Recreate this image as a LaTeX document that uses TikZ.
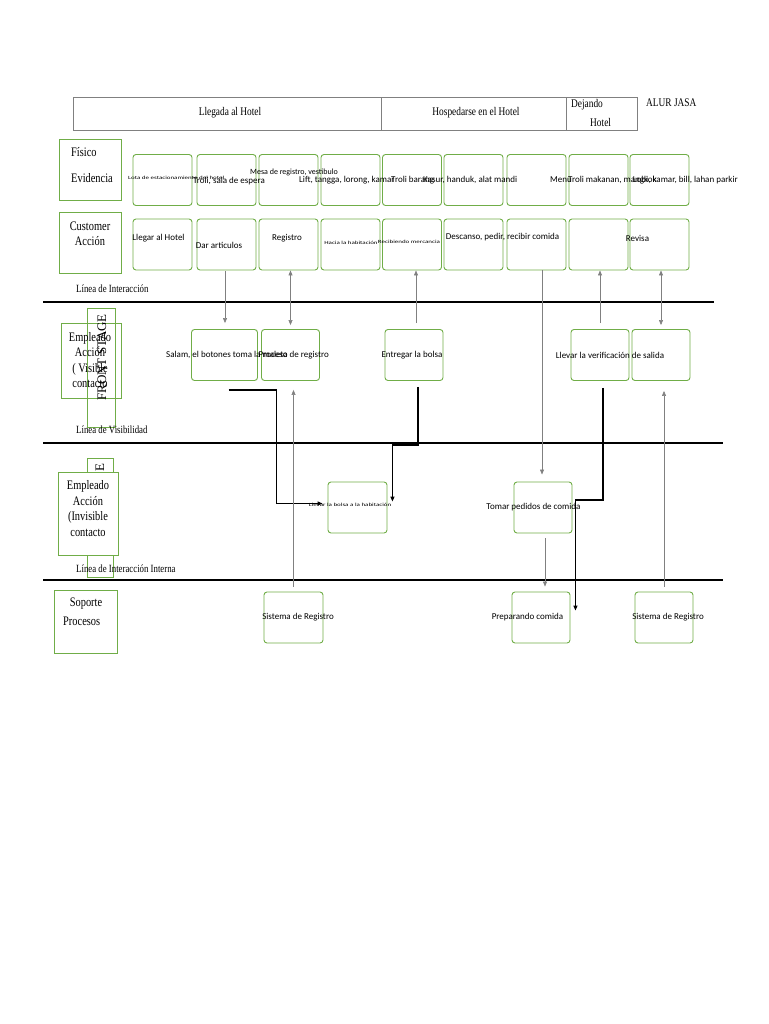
\documentclass[tikz,border=0pt]{standalone}
\usepackage{fontspec}
\setmainfont{Liberation Serif}
\newfontfamily\labelfont[FakeStretch=0.8]{Liberation Serif}
\newfontfamily\boxfont{Carlito}
\newfontfamily\widefont[FakeStretch=1.45]{Carlito}
\usetikzlibrary{positioning,calc,arrows.meta}
\definecolor{boxgreen}{RGB}{112,173,71}
\definecolor{hdrgray}{RGB}{128,128,128}
\tikzset{
  sbox/.style  = {draw=boxgreen, line width=0.9pt, rounded corners=3pt,
                  minimum width=59pt, minimum height=51pt, inner sep=0pt},
  lbox/.style  = {draw=boxgreen, line width=0.9pt, inner sep=0pt},
  hbox/.style  = {draw=hdrgray, line width=0.9pt, minimum height=33pt, inner sep=0pt},
  btxt/.style  = {font=\boxfont\fontsize{9}{10}\selectfont, inner sep=0pt},
  stxt/.style  = {font=\boxfont\fontsize{8}{9}\selectfont, inner sep=0pt},
  wtxt/.style  = {font=\widefont\fontsize{4.8}{5.5}\selectfont, inner sep=0pt},
  ltxt/.style  = {font=\labelfont\fontsize{13}{15.4}\selectfont, inner sep=0pt,
                  align=center},
  htxt/.style  = {font=\labelfont\fontsize{11.7}{14}\selectfont, inner sep=0pt},
  ntxt/.style  = {font=\labelfont\fontsize{11}{13}\selectfont, inner sep=0pt,
                  anchor=west},
  rtxt/.style  = {font=\fontsize{13}{15}\selectfont, inner sep=0pt, rotate=90},
  sep/.style   = {line width=1.1pt},
  flow/.style  = {line width=1.2pt, -{Triangle[length=5pt,width=4pt]}},
  gflow/.style = {draw=gray, line width=0.6pt, -{Triangle[length=5pt,width=4pt]}},
  gboth/.style = {draw=gray, line width=0.6pt,
                  {Triangle[length=5pt,width=4pt]}-{Triangle[length=5pt,width=4pt]}},
}

\begin{document}
\begin{tikzpicture}[x=1pt,y=-1pt]
  \useasboundingbox (0,0) rectangle (768,1024);

  % header
  \node[hbox, minimum width=308pt] (hd1) at (227,113.5) {};
  \node[hbox, minimum width=185pt] (hd2) at (473.5,113.5) {};
  \node[hbox, minimum width=71pt]  (hd3) at (601.5,113.5) {};
  \node[htxt] (thd1) at (230,113) {Llegada al Hotel};
  \node[htxt] (thd2) at (476,113) {Hospedarse en el Hotel};
  \node[htxt, anchor=west] (thd3) at (571,105) {Dejando};
  \node[htxt, anchor=west] (thd4) at (590,122) {Hotel};
  \node[htxt, anchor=west] (talur) at (646,103) {ALUR JASA};

  % row labels
  \node[lbox, minimum width=62pt, minimum height=61pt] (lpe) at (90,169.5) {};
  \node[ltxt, anchor=west] (tlpe1) at (71,152) {Físico};
  \node[ltxt, anchor=west] (tlpe2) at (71,178) {Evidencia};
  \node[lbox, minimum width=62pt, minimum height=61pt] (lca) at (90,242.5) {};
  \node[ltxt] (tlca) at (90,233.5) {Customer\\Acción};

  \node[lbox, minimum width=60pt, minimum height=75pt] (lev) at (91,360.5) {};
  \node[lbox, minimum width=28pt, minimum height=119pt] (lfs) at (101,367.5) {};
  \node[rtxt] (tfs) at (102,357.5) {FRONT STAGE};
  \node[ltxt] (tlev) at (90,360) {Empleado\\Acción\\( Visible\\contacto};

  \node[lbox, minimum width=26pt, minimum height=119pt] (lbs) at (100,517.5) {};
  \node[rtxt, anchor=east] (tbs) at (100,463.5) {BACK STAGE};
  \node[lbox, fill=white, minimum width=60pt, minimum height=83pt] (lei) at (88.5,513.5) {};
  \node[ltxt] (tlei) at (88,508.5) {Empleado\\Acción\\(Invisible\\contacto};

  \node[lbox, minimum width=63pt, minimum height=63pt] (lsp) at (85.5,621.5) {};
  \node[ltxt] (tlsp1) at (86,604) {Soporte};
  \node[ltxt, anchor=west] (tlsp2) at (63,621) {Procesos};

  % separator lines
  \draw[sep] (43,302) -- (714,302);
  \draw[sep] (43,443) -- (723,443);
  \draw[sep] (43,580) -- (723,580);
  \node[ntxt] (lni) at (76,289) {Línea de Interacción};
  \node[ntxt] (lnv) at (76,430) {Línea de Visibilidad};
  \node[ntxt] (lnn) at (76,569) {Línea de Interacción Interna};

  % boxes
  \foreach \n/\x in {1/162.5,2/226.5,3/288.5,4/350.5,5/412,6/473.5,7/536.5,8/598.5,9/659.5}{
    \node[sbox] (pe\n) at (\x,180) {};
    \node[sbox] (ca\n) at (\x,244.5) {};
  }
  \node[sbox, minimum width=66pt] (ev1) at (224.5,355) {};
  \node[sbox, minimum width=58pt] (ev2) at (290.5,355) {};
  \node[sbox, minimum width=58pt] (ev3) at (414,355) {};
  \node[sbox, minimum width=58pt] (ev4) at (600,355) {};
  \node[sbox, minimum width=58pt] (ev5) at (661,355) {};
  \node[sbox] (ei1) at (357.5,507.5) {};
  \node[sbox, minimum width=58pt] (ei2) at (543,507.5) {};
  \node[sbox] (sp1) at (293.5,617.5) {};
  \node[sbox, minimum width=58pt] (sp2) at (541,617.5) {};
  \node[sbox, minimum width=58pt] (sp3) at (664,617.5) {};

  % box texts
  \node[wtxt, anchor=west] (tpe1) at (128,178) {Lota de estacionamiento del hotel};
  \node[btxt] (tpe2) at (229,181) {Troli, sala de espera};
  \node[stxt] (tpe3) at (294,172) {Mesa de registro, vestibulo};
  \node[btxt, anchor=west] (tpe4) at (299,180) {Lift, tangga, lorong, kamar};
  \node[btxt, anchor=west] (tpe5) at (391,180) {Troli barang};
  \node[btxt, anchor=west] (tpe6) at (423,180) {Kasur, handuk, alat mandi};
  \node[btxt, anchor=west] (tpe7) at (550,180) {Menu};
  \node[btxt, anchor=west] (tpe8) at (568,180) {Troli makanan, mangkok};
  \node[btxt, anchor=east] (tpe9) at (738,180) {Lobi, kamar, bill, lahan parkir};

  \node[btxt] (tca1) at (158.5,238) {Llegar al Hotel};
  \node[btxt] (tca2) at (219,245) {Dar articulos};
  \node[btxt] (tca3) at (287,238) {Registro};
  \node[wtxt] (tca4) at (351,243) {Hacia la habitación};
  \node[wtxt] (tca5) at (409,242) {Recibiendo mercancia};
  \node[btxt] (tca7) at (502.5,237) {Descanso, pedir, recibir comida};
  \node[btxt] (tca9) at (637.5,238) {Revisa};

  \node[btxt, anchor=west] (tev1) at (166,355) {Salam, el botones toma la maleta};
  \node[btxt, anchor=east] (tev2) at (329,355) {Proceso de registro};
  \node[btxt] (tev3) at (412,355) {Entregar la bolsa};
  \node[btxt] (tev4) at (610,355) {Llevar la verificación de salida};

  \node[wtxt] (tei1) at (350,505) {Llevar la bolsa a la habitación};
  \node[btxt] (tei2) at (533.5,507) {Tomar pedidos de comida};

  \node[btxt] (tsp1) at (298,617) {Sistema de Registro};
  \node[btxt] (tsp2) at (527.5,617) {Preparando comida};
  \node[btxt] (tsp3) at (668,617) {Sistema de Registro};

  % connectors
  \draw[gflow, shorten <=1pt, shorten >=6pt] ([xshift=-1.5pt]ca2.south) -- ([xshift=-1.5pt]ca2.south |- ev1.north);
  \draw[gboth, shorten >=4pt] (ev2.north |- ca3.south) -- (ev2.north);
  \draw[gflow, shorten <=6pt] ([xshift=2pt]ev3.north) -- ([xshift=2pt]ev3.north |- ca5.south);
  \draw[gflow, shorten >=7pt] ([xshift=5.5pt]ca7.south) -- ([xshift=5.5pt]ca7.south |- ei2.north);
  \draw[gflow, shorten <=6pt] (ev4.north) -- (ev4.north |- ca8.south);
  \draw[gboth, shorten >=4pt] (ev5.north |- ca9.south) -- (ev5.north);
  \draw[flow] ($(ev1.south)+(4,9)$) -- ++(48,0) |- ($(ei1.west)+(-5,-4)$);
  \draw[flow] ($(ev3.south)+(4,6)$) -- ++(0,58) -| ($(ei1.north east)+(5,20)$);
  \draw[flow] ($(ev4.south)+(3,7)$) -- ++(0,112) -| ($(sp2.north east)+(5,19)$);
  \draw[gflow, shorten <=5pt, shorten >=9pt] (sp1.north) -- (sp1.north |- ev2.south);
  \draw[gflow, shorten <=5pt, shorten >=5pt] ([xshift=2pt]ei2.south) -- ([xshift=2pt]ei2.south |- sp2.north);
  \draw[gflow, shorten <=5pt, shorten >=10pt] (sp3.north) -- (sp3.north |- ev5.south);
\end{tikzpicture}
\end{document}
